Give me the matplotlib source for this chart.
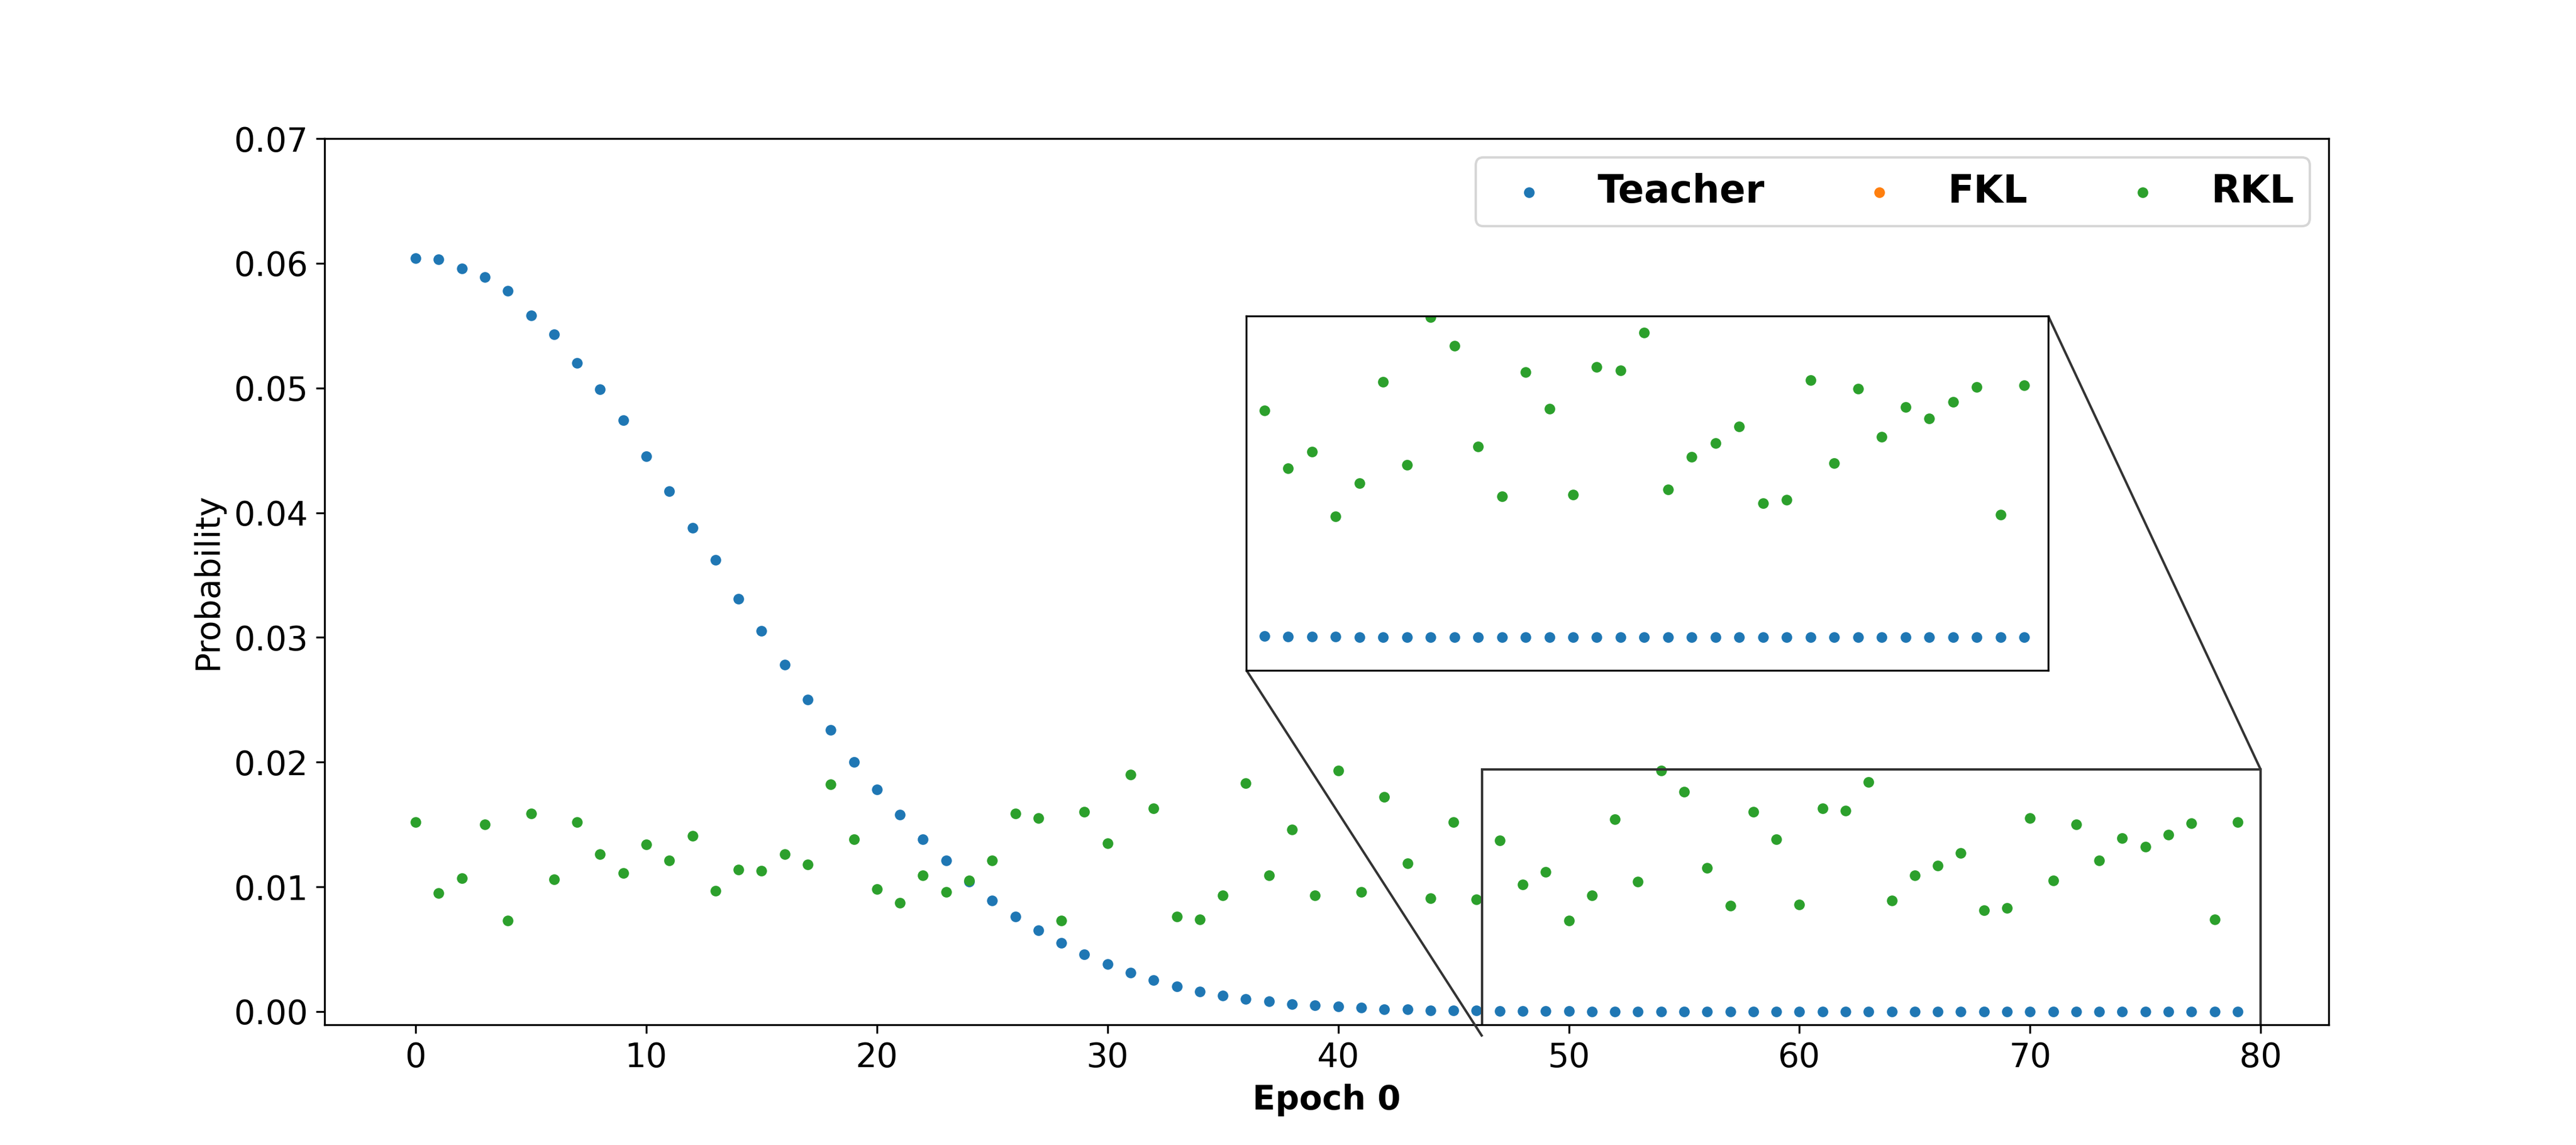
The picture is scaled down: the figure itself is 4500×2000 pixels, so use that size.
import matplotlib
matplotlib.use("Agg")
import matplotlib.pyplot as plt
import numpy as np
from mpl_toolkits.axes_grid1.inset_locator import mark_inset

plt.rcParams['font.size'] = 14

epochs = list(range(80))
teacher = [0.0604, 0.0603, 0.0596, 0.0589, 0.0578, 0.0558, 0.0543, 0.0520, 0.0499, 0.0474,
           0.0445, 0.0417, 0.0388, 0.0362, 0.0331, 0.0305, 0.0278, 0.0250, 0.0226, 0.0200,
           0.0178, 0.0158, 0.0138, 0.0121, 0.0104, 0.0089, 0.0076, 0.0065, 0.0055, 0.0046,
           0.0038, 0.0031, 0.0025, 0.0020, 0.0016, 0.0013, 0.0010, 0.0008, 0.0006, 0.0005,
           0.0004, 0.0003, 0.0002, 0.0002, 0.0001, 0.0001, 0.0001, 0.00005, 0.00004, 0.00003,
           0.00002, 0.00001, 0.00001, 0.0, 0.0, 0.0, 0.0, 0.0, 0.0, 0.0,
           0.0, 0.0, 0.0, 0.0, 0.0, 0.0, 0.0, 0.0, 0.0, 0.0,
           0.0, 0.0, 0.0, 0.0, 0.0, 0.0, 0.0, 0.0, 0.0, 0.0]
fkl = []
rkl = [0.0152, 0.0095, 0.0107, 0.0150, 0.0073, 0.0159, 0.0106, 0.0152, 0.0126, 0.0111,
       0.0134, 0.0121, 0.0141, 0.0097, 0.0114, 0.0113, 0.0126, 0.0118, 0.0182, 0.0138,
       0.0098, 0.0087, 0.0109, 0.0096, 0.0105, 0.0121, 0.0159, 0.0155, 0.0073, 0.0160,
       0.0135, 0.0190, 0.0163, 0.0076, 0.0074, 0.0093, 0.0183, 0.0109, 0.0146, 0.0093,
       0.0193, 0.0096, 0.0172, 0.0119, 0.0091, 0.0152, 0.0090, 0.0137, 0.0102, 0.0112,
       0.0073, 0.0093, 0.0154, 0.0104, 0.0193, 0.0176, 0.0115, 0.0085, 0.0160, 0.0138,
       0.0086, 0.0163, 0.0161, 0.0184, 0.0089, 0.0109, 0.0117, 0.0127, 0.0081, 0.0083,
       0.0155, 0.0105, 0.0150, 0.0121, 0.0139, 0.0132, 0.0142, 0.0151, 0.0074, 0.0152]

fig = plt.figure(figsize=(15, 6.6667), dpi=300)
ax = fig.add_axes([0.126, 0.105, 0.778, 0.774])
s = 12
ax.scatter(epochs, teacher, s=s, color='C0', label='Teacher')
ax.scatter(fkl, fkl, s=s, color='C1', label='FKL')
ax.scatter(epochs, rkl, s=s, color='C2', label='RKL')
ax.set_ylim(-0.00106, 0.07)
ax.set_xlim(-3.95, 82.95)
ax.set_ylabel('Probability')
ax.set_xlabel('Epoch 0', fontweight='bold')
ax.legend(loc='upper right', ncol=3, prop={'weight': 'bold', 'size': 16})

axins = ax.inset_axes([0.46, 0.40, 0.40, 0.40])
axins.scatter(epochs, teacher, s=s, color='C0')
axins.scatter(epochs, rkl, s=s, color='C2')
axins.set_xlim(46.25, 80.0)
axins.set_ylim(-0.002, 0.0194)
axins.set_xticks([])
axins.set_yticks([])
mark_inset(ax, axins, loc1=1, loc2=3, fc='none', ec='0.2')

fig.savefig('out.png', dpi=300)
